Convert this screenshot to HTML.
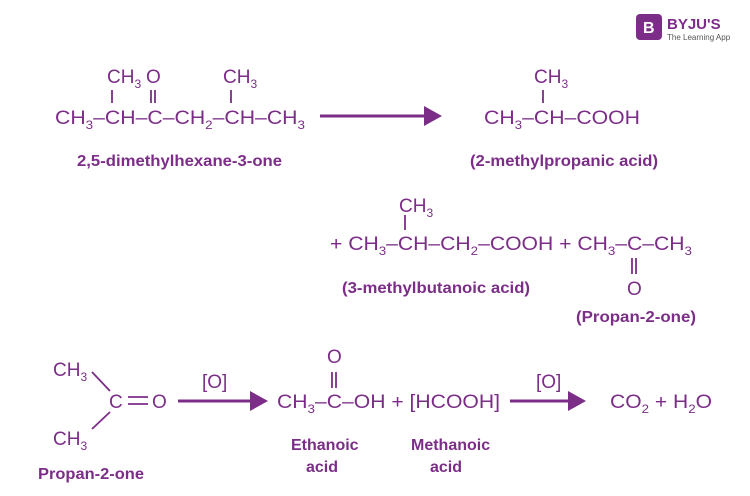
<!DOCTYPE html>
<html><head><style>body{margin:0;background:#fff}svg{display:block}</style></head><body>
<svg width="750" height="496" viewBox="0 0 750 496" xmlns="http://www.w3.org/2000/svg" font-family="Liberation Sans, Arial, sans-serif" fill="#7b2d87">
<g font-size="19">
<!-- Row 1 -->
<text x="107" y="83">CH<tspan font-size="12" dy="5">3</tspan></text>
<text x="146" y="83">O</text>
<text x="223" y="83">CH<tspan font-size="12" dy="5">3</tspan></text>
<text x="55" y="124" textLength="250" lengthAdjust="spacingAndGlyphs">CH<tspan font-size="12" dy="5">3</tspan><tspan dy="-5">–CH–C–CH</tspan><tspan font-size="12" dy="5">2</tspan><tspan dy="-5">–CH–CH</tspan><tspan font-size="12" dy="5">3</tspan></text>
<text x="534" y="83">CH<tspan font-size="12" dy="5">3</tspan></text>
<text x="484" y="124" textLength="156" lengthAdjust="spacingAndGlyphs">CH<tspan font-size="12" dy="5">3</tspan><tspan dy="-5">–CH–COOH</tspan></text>
<!-- Row 2 -->
<text x="399" y="212">CH<tspan font-size="12" dy="5">3</tspan></text>
<text x="330" y="250" textLength="362" lengthAdjust="spacingAndGlyphs">+ CH<tspan font-size="12" dy="5">3</tspan><tspan dy="-5">–CH–CH</tspan><tspan font-size="12" dy="5">2</tspan><tspan dy="-5">–COOH + CH</tspan><tspan font-size="12" dy="5">3</tspan><tspan dy="-5">–C–CH</tspan><tspan font-size="12" dy="5">3</tspan></text>
<text x="627" y="295">O</text>
<!-- Row 3 -->
<text x="53" y="376">CH<tspan font-size="12" dy="5">3</tspan></text>
<text x="53" y="445">CH<tspan font-size="12" dy="5">3</tspan></text>
<text x="109" y="408">C</text>
<text x="152" y="408">O</text>
<text x="202" y="388">[O]</text>
<text x="327" y="363">O</text>
<text x="277" y="408" textLength="223" lengthAdjust="spacingAndGlyphs">CH<tspan font-size="12" dy="5">3</tspan><tspan dy="-5">–C–OH + [HCOOH]</tspan></text>
<text x="536" y="388">[O]</text>
<text x="610" y="408" textLength="102" lengthAdjust="spacingAndGlyphs">CO<tspan font-size="12" dy="5">2</tspan><tspan dy="-5"> + H</tspan><tspan font-size="12" dy="5">2</tspan><tspan dy="-5">O</tspan></text>
</g>
<g font-size="16" font-weight="bold">
<text x="77" y="166" textLength="205" lengthAdjust="spacingAndGlyphs">2,5-dimethylhexane-3-one</text>
<text x="470" y="166" textLength="188" lengthAdjust="spacingAndGlyphs">(2-methylpropanic acid)</text>
<text x="342" y="293" textLength="188" lengthAdjust="spacingAndGlyphs">(3-methylbutanoic acid)</text>
<text x="576" y="322" textLength="120" lengthAdjust="spacingAndGlyphs">(Propan-2-one)</text>
<text x="291" y="450">Ethanoic</text>
<text x="306" y="472">acid</text>
<text x="411" y="450">Methanoic</text>
<text x="430" y="472">acid</text>
<text x="38" y="479" textLength="106" lengthAdjust="spacingAndGlyphs">Propan-2-one</text>
</g>
<g stroke="#7b2d87" stroke-width="1.8" fill="none">
<line x1="112" y1="90" x2="112" y2="103"/>
<line x1="151" y1="90" x2="151" y2="103"/><line x1="155" y1="90" x2="155" y2="103"/>
<line x1="231" y1="90" x2="231" y2="103"/>
<line x1="543" y1="90" x2="543" y2="103"/>
<line x1="405" y1="215" x2="405" y2="230"/>
<line x1="632" y1="258" x2="632" y2="274"/><line x1="636" y1="258" x2="636" y2="274"/>
<line x1="92" y1="372" x2="110" y2="391"/>
<line x1="92" y1="429" x2="110" y2="412"/>
<line x1="128" y1="397" x2="148" y2="397"/><line x1="128" y1="404" x2="148" y2="404"/>
<line x1="332" y1="372" x2="332" y2="388"/><line x1="336" y1="372" x2="336" y2="388"/>
</g>
<g stroke="#7b2d87" stroke-width="3">
<line x1="320" y1="116" x2="426" y2="116"/>
<line x1="178" y1="401" x2="252" y2="401"/>
<line x1="510" y1="401" x2="570" y2="401"/>
</g>
<polygon points="424,106 442,116 424,126"/>
<polygon points="250,391 268,401 250,411"/>
<polygon points="568,391 586,401 568,411"/>
<!-- logo -->
<rect x="636" y="14" width="26" height="26" rx="4" fill="#7b2d87"/>
<text x="643" y="33" font-size="16" font-weight="bold" fill="#fff">B</text>
<text x="667" y="29" font-size="15" font-weight="bold">BYJU'S</text>
<text x="667" y="40" font-size="8" fill="#555">The Learning App</text>
</svg>
</body></html>
